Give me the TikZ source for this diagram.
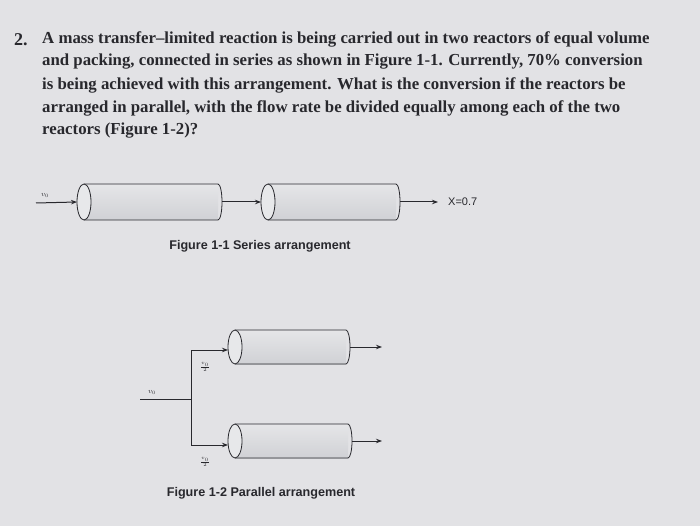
\documentclass[tikz,border=0pt]{standalone}
\usepackage{fontspec}
\setmainfont{Liberation Serif}
\setsansfont{Liberation Sans}
\usetikzlibrary{arrows.meta}
\definecolor{bg}{RGB}{226,226,229}
\definecolor{cyl}{RGB}{208,209,213}
\definecolor{ink}{RGB}{40,40,45}
\begin{document}
\begin{tikzpicture}[x=1pt,y=-1pt,
  txt/.style={anchor=west,inner sep=0pt,font=\fontsize{16.8}{18}\selectfont\bfseries,text=ink},
  figcap/.style={inner sep=0pt,font=\sffamily\fontsize{12.6}{14}\selectfont\bfseries,text=ink},
  small/.style={inner sep=0pt,font=\sffamily\fontsize{7}{8}\selectfont,text=ink},
  flow/.style={draw=ink,line width=1pt,-{Stealth[length=6pt]}},
  pipe/.style={draw=ink,line width=1pt}]
\fill[bg] (0,0) rectangle (700,526);
\useasboundingbox (0,0) rectangle (700,526);
\newcommand{\cylinder}[5]{% name, x1, x2, yc, half height
  \fill[top color=cyl!55!white,bottom color=cyl] (#2,#4-#5) rectangle (#3,#4+#5);
  \draw[ink,line width=0.8pt] (#2,#4-#5) -- (#3,#4-#5) arc[start angle=90,end angle=-90,x radius=4pt,y radius=#5pt] -- (#2,#4+#5);
  \draw[ink,line width=0.8pt,fill=cyl!50!white] (#2,#4) ellipse[x radius=7pt,y radius=#5pt];
  \coordinate (#1w) at (#2-7,#4);
  \coordinate (#1e) at (#3+4,#4);
}
\node[txt] (n2) at (14,40) {\fontsize{18}{19}\selectfont 2.};
\node[txt] (l1) at (42,39) {A mass transfer–limited reaction is being carried out in two reactors of equal volume};
\node[txt] (l2) at (42,62) {and packing, connected in series as shown in Figure 1-1. Currently, 70\% conversion};
\node[txt] (l3) at (42,85) {is being achieved with this arrangement. What is the conversion if the reactors be};
\node[txt] (l4) at (42,108) {arranged in parallel, with the flow rate be divided equally among each of the two};
\node[txt] (l5) at (42,131) {reactors (Figure 1-2)?};
% series
\cylinder{a}{84}{218}{202}{18}
\cylinder{b}{268}{396}{202}{18}
\coordinate (in) at (36,203);
\node[small] (v0a) at (45,195) {$v_0$};
\draw[flow] (in) -- (aw);
\draw[flow] (ae) -- (bw);
\coordinate (out) at (438,202);
\draw[flow] (be) -- (out);
\node[inner sep=0pt,anchor=west,font=\sffamily\fontsize{11}{12}\selectfont,text=ink] (x) at (448,202) {X=0.7};
\node[figcap] (c1) at (260,246) {Figure 1-1 Series arrangement};
% parallel
\cylinder{c}{235}{346}{347}{17}
\cylinder{d}{235}{348}{441}{17}
\coordinate (p0) at (140,399);
\coordinate (pj) at (191,399);
\coordinate (pt) at (191,350);
\coordinate (pb) at (191,445);
\draw[pipe] (p0) -- (pj);
\draw[pipe] (pt) -- (pb);
\draw[flow] (pt) -- (cw|-pt);
\draw[flow] (pb) -- (dw|-pb);
\coordinate (co) at (382,347);
\coordinate (do) at (382,441);
\draw[flow] (ce) -- (co);
\draw[flow] (de) -- (do);
\node[small] (v0b) at (152,392) {$v_0$};
\node[small] (v1) at (205,367) {$\frac{v_0}{2}$};
\node[small] (v2) at (205,462) {$\frac{v_0}{2}$};
\node[figcap] (c2) at (261,493) {Figure 1-2 Parallel arrangement};
\end{tikzpicture}
\end{document}
